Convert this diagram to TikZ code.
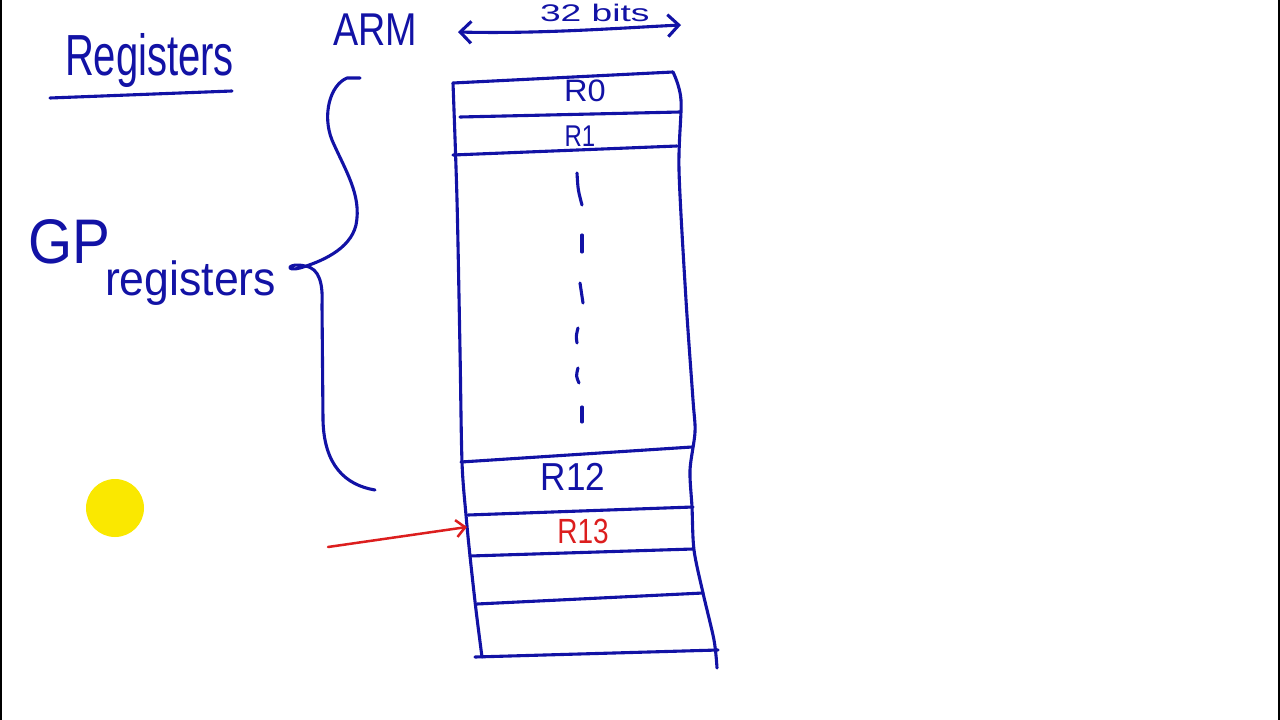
\documentclass[tikz,border=0pt]{standalone}
\usepackage{fontspec}
\setmainfont{Liberation Sans}
\usetikzlibrary{arrows.meta}
\definecolor{ink}{RGB}{18,18,165}
\definecolor{redink}{RGB}{220,30,30}
\definecolor{dot}{RGB}{250,232,0}
\tikzset{
  pen/.style={draw=ink, line width=3.1pt, line cap=round, line join=round},
  redpen/.style={draw=redink, line width=2.5pt, line cap=round},
  txt/.style={inner sep=0pt, outer sep=0pt, text=ink}
}
\begin{document}
\begin{tikzpicture}[x=1pt,y=-1pt]
\useasboundingbox (0,0) rectangle (1280,720);
\fill[white] (0,0) rectangle (1280,720);
\draw[black, line width=1.6pt] (0.8,0) -- (0.8,720);
\draw[black, line width=1.6pt] (1279.2,0) -- (1279.2,720);

% title
\node[txt, anchor=base west] (title) at (65,75) {\fontsize{58}{60}\selectfont\scalebox{0.69}[1]{Registers}};
\coordinate (ul1) at (50,98);
\coordinate (ul2) at (232,91);
\draw[pen] (ul1) -- (ul2);

% ARM and width arrow
\node[txt, anchor=base west] (arm) at (333,45) {\fontsize{46}{48}\selectfont\scalebox{0.82}[1]{ARM}};
\node[txt, anchor=base west] (bits) at (540,21) {\fontsize{24}{26}\selectfont\scalebox{1.55}[1]{32 bits}};
\coordinate (wl) at (458,32);
\coordinate (wr) at (681,25);
\draw[pen, {Straight Barb[length=11pt,width=22pt]}-{Straight Barb[length=11pt,width=22pt]}] (wl) .. controls (540,34) and (620,28) .. (wr);

% register file box
\draw[pen] plot[smooth, tension=0.5] coordinates {(453,83) (457,200) (460,350) (462,462) (466,515) (470,556) (476,610) (482,657)};
\draw[pen] plot[smooth, tension=0.5] coordinates {(673,72) (681,100) (679,170) (686,300) (693,400) (695,432) (690,470) (692,507) (694,550) (703,593) (714,640) (717,668)};
\draw[pen] (453,83) -- (673,72);
\draw[pen] (460,117) -- (680,112);
\draw[pen] (453,155) -- (677,146);
\draw[pen] (461,462) -- (692,447);
\draw[pen] (468,515) -- (693,507);
\draw[pen] (470,556) -- (693,549);
\draw[pen] (477,604) -- (703,593);
\draw[pen] (475,657) -- (718,650);

% dashes
\draw[pen] (577,173) .. controls (578,190) .. (582,205);
\draw[pen] (582,235) -- (582,252);
\draw[pen] (580,283) -- (583,303);
\draw[pen] (578,328) .. controls (576,336) .. (577,343);
\draw[pen] (578,368) .. controls (576,376) .. (579,383);
\draw[pen] (582,407) -- (582,422);

% register labels
\node[txt, anchor=base] (r0) at (585,101) {\fontsize{31}{33}\selectfont\scalebox{1.05}[1]{R0}};
\node[txt, anchor=base] (r1) at (580,146) {\fontsize{30}{32}\selectfont\scalebox{0.8}[1]{R1}};
\node[txt, anchor=base] (r12) at (573,490) {\fontsize{39}{41}\selectfont\scalebox{0.9}[1]{R12}};
\node[txt, anchor=base, text=redink] (r13) at (583,543) {\fontsize{35}{37}\selectfont\scalebox{0.8}[1]{R13}};

% red pointer
\coordinate (ptail) at (328,547);
\coordinate (phead) at (467,527);
\draw[redpen, -{Straight Barb[length=9pt,width=17pt]}] (ptail) -- (phead);

% brace
\draw[pen] (360,78) -- (347,78) .. controls (330,85) and (322,115) .. (332,140)
  .. controls (345,170) and (362,195) .. (356,225)
  .. controls (350,250) and (320,262) .. (300,268)
  .. controls (284,272) and (288,262) .. (305,266)
  .. controls (320,268) and (323,285) .. (322,305)
  -- (323,420)
  .. controls (324,465) and (345,485) .. (375,490);

% GP registers
\node[txt, anchor=base west] (gp) at (28,263) {\fontsize{63}{65}\selectfont\scalebox{0.9}[1]{GP}};
\node[txt, anchor=base west] (gpr) at (105,295) {\fontsize{48}{50}\selectfont\scalebox{0.93}[1]{registers}};

% yellow pointer dot
\fill[dot] (115,508) circle (29);
\end{tikzpicture}
\end{document}
